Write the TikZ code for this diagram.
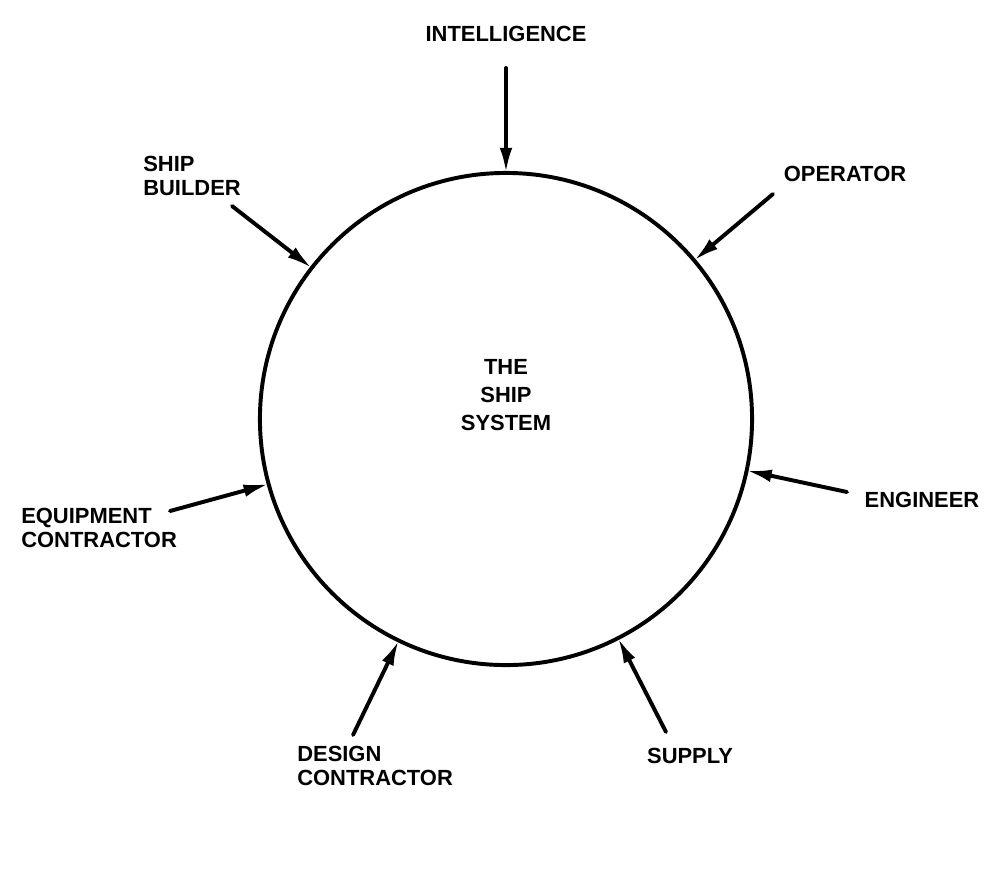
\documentclass[tikz,border=0pt]{standalone}
\usepackage{fontspec}
\setmainfont{Liberation Sans}
\usetikzlibrary{arrows.meta}
\tikzset{
  lbl/.style={font=\fontsize{15.6pt}{17pt}\selectfont\bfseries, inner sep=0pt, align=left},
  ctr/.style={font=\fontsize{15.6pt}{20pt}\selectfont\bfseries, inner sep=0pt, align=center},
  feed/.style={line width=2.8pt, line cap=round, shorten >=-1.5pt, -{Latex[length=18pt,width=9pt]}},
  sysring/.style={circle, draw, line width=2.8pt, minimum size=12.3cm, inner sep=0pt}
}
\begin{document}
\begin{tikzpicture}[x=0.025cm,y=-0.025cm]
\useasboundingbox (0,0) rectangle (988,884);
\node[sysring] (sys) at (506,419) {};
\node[ctr] (title) at (506,395) {THE\\SHIP\\SYSTEM};

\node[lbl] (intel) at (506,34) {INTELLIGENCE};
\node[lbl, anchor=west] (builder) at (143,175.5) {SHIP\\BUILDER};
\node[lbl] (oper) at (845,174) {OPERATOR};
\node[lbl, anchor=west] (equip) at (21,528) {EQUIPMENT\\CONTRACTOR};
\node[lbl] (eng) at (922,500) {ENGINEER};
\node[lbl, anchor=west] (design) at (297,766) {DESIGN\\CONTRACTOR};
\node[lbl] (supply) at (690,756) {SUPPLY};

\coordinate (sIntel) at (506,68);
\coordinate (sBuilder) at (232,206);
\coordinate (sOper) at (773,194);
\coordinate (sEquip) at (170,511);
\coordinate (sEng) at (847,492);
\coordinate (sDesign) at (353,735);
\coordinate (sSupply) at (666,732);

\foreach \s in {sIntel,sBuilder,sOper,sEquip,sEng,sDesign,sSupply}
  \draw[feed] (\s) -- (sys);
\end{tikzpicture}
\end{document}
